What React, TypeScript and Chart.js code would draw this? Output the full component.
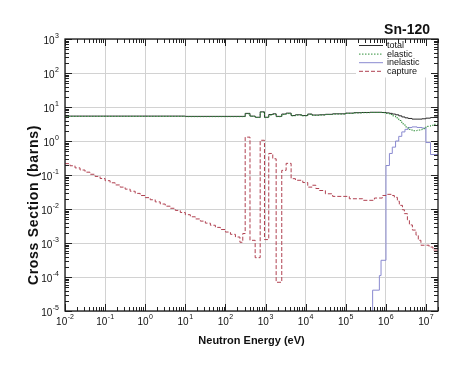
import { useEffect, useRef } from 'react';
import { Chart, registerables } from 'chart.js';

Chart.register(...registerables);

const TITLE = 'Sn-120';
const X_LABEL = 'Neutron Energy (eV)';
const Y_LABEL = 'Cross Section (barns)';
const SERIES_NAMES = ['total', 'elastic', 'inelastic', 'capture'];
const X_DECADES = [-2, -1, 0, 1, 2, 3, 4, 5, 6, 7];
const Y_DECADES = [-5, -4, -3, -2, -1, 0, 1, 2, 3];
const X_MIN = 0.01;
const X_MAX = 2e7;
const Y_MIN = 1e-5;
const Y_MAX = 1e3;

const TOTAL_E = [
  0.01, 10, 311, 410, 552, 736, 942, 1205, 1517, 1841, 2541, 3266, 4351, 5570, 8000, 11300, 14500,
  22100, 31100, 47300, 1.0e5, 1.6e5, 2.5e5, 4.0e5, 8.0e5, 1.01e6, 1.23e6, 1.45e6, 1.75e6, 2.1e6,
  2.5e6, 3.0e6, 3.6e6, 4.5e6, 6.0e6, 8.0e6, 1.0e7, 1.3e7, 1.6e7, 2.0e7,
];
const TOTAL_XS = [
  5.4, 5.3, 6.5, 5.4, 5.0, 7.2, 5.0, 6.0, 6.3, 5.3, 6.2, 6.6, 5.6, 5.9, 5.6, 6.2, 5.8,
  5.9, 6.1, 6.3, 6.6, 6.8, 6.9, 7.0, 6.9, 6.7, 6.5, 6.2, 5.9, 5.5,
  5.1, 4.8, 4.6, 4.4, 4.4, 4.5, 4.7, 4.9, 5.1, 5.1,
];

const ELASTIC_E = [
  0.01, 10, 311, 410, 552, 736, 942, 1205, 1517, 1841, 2541, 3266, 4351, 5570, 8000, 11300, 14500,
  22100, 31100, 47300, 1.0e5, 1.6e5, 2.5e5, 4.0e5, 8.0e5, 1.01e6, 1.23e6, 1.45e6, 1.75e6, 2.1e6,
  2.5e6, 3.0e6, 3.6e6, 4.5e6, 6.0e6, 8.0e6, 1.0e7, 1.3e7, 1.6e7, 2.0e7,
];
const ELASTIC_XS = [
  5.3, 5.2, 6.3, 5.3, 4.9, 7.0, 4.9, 5.8, 6.1, 5.2, 6.0, 6.4, 5.5, 5.8, 5.5, 6.1, 5.7,
  5.8, 6.0, 6.2, 6.5, 6.7, 6.8, 6.9, 6.8, 6.5, 6.0, 5.5, 4.8, 4.0,
  3.2, 2.6, 2.2, 2.0, 2.1, 2.3, 2.7, 2.9, 3.1, 3.1,
];

const INELASTIC_E = [
  4.5e5, 4.69e5, 6.9e5, 7.6e5, 1.01e6, 1.23e6, 1.45e6, 1.75e6, 2.1e6, 2.5e6, 3.0e6, 3.6e6, 4.5e6,
  6.0e6, 8.0e6, 1.0e7, 1.3e7, 2.0e7,
];
const INELASTIC_XS = [
  1e-7, 4.1e-5, 1.1e-4, 3.1e-4, 0.19, 0.43, 0.66, 1.0, 1.37, 1.85, 2.2, 2.5, 2.6,
  2.5, 2.4, 0.9, 0.4, 0.4,
];

const CAPTURE_E = [
  0.01, 0.01334, 0.01778, 0.02371, 0.03162, 0.04217, 0.05623, 0.07499, 0.1, 0.1334, 0.1778, 0.2371,
  0.3162, 0.4217, 0.5623, 0.7499, 1, 1.334, 1.778, 2.371, 3.162, 4.217, 5.623, 7.499, 10, 13.34,
  17.78, 23.71, 31.62, 42.17, 56.23, 74.99, 100, 133.4, 177.8, 230,
  271, 311, 410, 552, 736, 942, 1205, 1517, 1841, 2541, 3266, 4351, 5570, 8500,
  11300, 14500, 18000, 22100, 31100, 47300, 1.23e5, 2.65e5, 5.2e5, 8.2e5, 1.01e6, 1.45e6, 1.63e6,
  1.94e6, 2.17e6, 2.6e6, 2.9e6, 3.45e6, 3.87e6, 4.6e6, 5.66e6, 6.45e6, 7.5e6, 1.2e7, 1.5e7, 2.0e7,
];
const CAPTURE_XS = [
  0.216, 0.187, 0.162, 0.14, 0.121, 0.105, 0.091, 0.079, 0.068, 0.059, 0.051, 0.044,
  0.0384, 0.0333, 0.0288, 0.0249, 0.0216, 0.0187, 0.0162, 0.014, 0.0121, 0.0105, 0.0091, 0.0079,
  0.0068, 0.0059, 0.0051, 0.0044, 0.00384, 0.00333, 0.00288, 0.00249, 0.0021, 0.0018, 0.0015, 0.00105,
  0.0019, 1.3, 0.0012, 0.00037, 1.05, 0.00126, 0.43, 0.3, 0.00007, 0.137, 0.22, 0.078, 0.07, 0.06,
  0.044, 0.05, 0.04, 0.035, 0.028, 0.0235, 0.02, 0.018, 0.021, 0.025, 0.027, 0.025, 0.022,
  0.017, 0.0128, 0.0095, 0.0073, 0.0048, 0.0034, 0.0024, 0.0017, 0.0012, 0.00086, 0.00076, 0.00062, 0.00062,
];

const pts = (e: number[], v: number[]) => e.map((x, i) => ({ x, y: v[i] }));

const FONT = '"Liberation Sans", Arial, Helvetica, sans-serif';

function drawPow(ctx: CanvasRenderingContext2D, exp: number, x: number, y: number, align: 'center' | 'right') {
  const base = '10';
  const e = String(exp);
  ctx.font = `10px ${FONT}`;
  const wb = ctx.measureText(base).width;
  ctx.font = `7px ${FONT}`;
  const we = ctx.measureText(e).width;
  const w = wb + we + 0.5;
  const x0 = align === 'center' ? x - w / 2 : x - w;
  ctx.textAlign = 'left';
  ctx.textBaseline = 'middle';
  ctx.font = `10px ${FONT}`;
  ctx.fillText(base, x0, y);
  ctx.font = `7px ${FONT}`;
  ctx.fillText(e, x0 + wb + 0.5, y - 5);
}

const decorPlugin = {
  id: 'decor',
  afterDatasetsDraw(chart: any) {
    const { ctx, chartArea: a, scales } = chart;
    const xs = scales.x;
    const ys = scales.y;
    ctx.save();

    // legend box
    const boxL = a.right - 82;
    const boxB = a.top + 38;
    ctx.fillStyle = '#ffffff';
    ctx.fillRect(boxL, a.top + 0.5, a.right - boxL, boxB - a.top);
    chart.data.datasets.forEach((ds: any, i: number) => {
      const yy = a.top + 6.5 + i * 8.6;
      ctx.beginPath();
      ctx.strokeStyle = ds.borderColor;
      ctx.lineWidth = 1;
      ctx.setLineDash(ds.borderDash || []);
      ctx.moveTo(a.right - 79, yy);
      ctx.lineTo(a.right - 55, yy);
      ctx.stroke();
      ctx.setLineDash([]);
      ctx.fillStyle = '#111';
      ctx.font = `9px ${FONT}`;
      ctx.textAlign = 'left';
      ctx.textBaseline = 'middle';
      ctx.fillText(ds.label, a.right - 51, yy);
    });

    // ticks
    ctx.strokeStyle = '#222';
    ctx.lineWidth = 1;
    ctx.beginPath();
    const xd0 = Math.floor(Math.log10(X_MIN));
    const xd1 = Math.ceil(Math.log10(X_MAX));
    for (let d = xd0; d <= xd1; d++) {
      for (let k = 1; k <= 9; k++) {
        const v = k * Math.pow(10, d);
        if (v < X_MIN * 0.999 || v > X_MAX * 1.001) continue;
        const px = Math.round(xs.getPixelForValue(v)) + 0.5;
        const len = k === 1 ? 7 : 4;
        ctx.moveTo(px, a.bottom);
        ctx.lineTo(px, a.bottom - len);
        ctx.moveTo(px, a.top);
        ctx.lineTo(px, a.top + len);
      }
    }
    const yd0 = Math.floor(Math.log10(Y_MIN));
    const yd1 = Math.ceil(Math.log10(Y_MAX));
    for (let d = yd0; d <= yd1; d++) {
      for (let k = 1; k <= 9; k++) {
        const v = k * Math.pow(10, d);
        if (v < Y_MIN * 0.999 || v > Y_MAX * 1.001) continue;
        const py = Math.round(ys.getPixelForValue(v)) + 0.5;
        const len = k === 1 ? 7 : 4;
        ctx.moveTo(a.left, py);
        ctx.lineTo(a.left + len, py);
        ctx.moveTo(a.right, py);
        ctx.lineTo(a.right - len, py);
      }
    }
    ctx.stroke();

    // frame
    ctx.lineWidth = 1.3;
    ctx.strokeStyle = '#1a1a1a';
    ctx.strokeRect(a.left, a.top, a.right - a.left, a.bottom - a.top);

    // tick labels
    ctx.fillStyle = '#111';
    X_DECADES.forEach((d) => {
      drawPow(ctx, d, xs.getPixelForValue(Math.pow(10, d)), a.bottom + 11, 'center');
    });
    Y_DECADES.forEach((d) => {
      drawPow(ctx, d, a.left - 6, ys.getPixelForValue(Math.pow(10, d)) + 2, 'right');
    });

    // axis titles
    ctx.font = `bold 11px ${FONT}`;
    ctx.textAlign = 'center';
    ctx.textBaseline = 'middle';
    ctx.fillText(X_LABEL, (a.left + a.right) / 2, a.bottom + 30);
    ctx.save();
    ctx.translate(a.left - 31, (a.top + a.bottom) / 2 + 30);
    ctx.rotate(-Math.PI / 2);
    ctx.font = `bold 14px ${FONT}`;
    try {
      (ctx as any).letterSpacing = '0.7px';
    } catch (e) {
      /* ignore */
    }
    ctx.fillText(Y_LABEL, 0, 0);
    ctx.restore();

    // title
    ctx.font = `bold 14px ${FONT}`;
    ctx.textAlign = 'right';
    ctx.textBaseline = 'middle';
    ctx.fillText(TITLE, a.right - 8, a.top - 9);

    ctx.restore();
  },
};

export default function App() {
  const ref = useRef<HTMLCanvasElement | null>(null);
  useEffect(() => {
    if (!ref.current) return;
    const common = { borderWidth: 1, pointRadius: 0, stepped: 'before' as const, fill: false };
    const chart = new Chart(ref.current, {
      type: 'line',
      data: {
        datasets: [
          { ...common, label: SERIES_NAMES[0], data: pts(TOTAL_E, TOTAL_XS), borderColor: '#2b2b2b', order: 2 },
          { ...common, label: SERIES_NAMES[1], data: pts(ELASTIC_E, ELASTIC_XS), borderColor: '#2f8f3a', borderDash: [1.5, 1.5], order: 1 },
          { ...common, label: SERIES_NAMES[2], data: pts(INELASTIC_E, INELASTIC_XS), borderColor: '#8a8ad0', order: 3 },
          { ...common, label: SERIES_NAMES[3], data: pts(CAPTURE_E, CAPTURE_XS), borderColor: '#b04050', borderDash: [4, 2], order: 0 },
        ] as any,
      },
      options: {
        animation: false,
        responsive: false,
        devicePixelRatio: 1,
        layout: { padding: { left: 65, top: 39, right: 36, bottom: 55 } },
        plugins: { legend: { display: false }, title: { display: false }, tooltip: { enabled: false } },
        scales: {
          x: {
            type: 'logarithmic',
            min: X_MIN,
            max: X_MAX,
            afterBuildTicks: (ax: any) => {
              ax.ticks = X_DECADES.map((d) => ({ value: Math.pow(10, d) }));
            },
            ticks: { display: false },
            grid: { color: '#d2d2d2', drawTicks: false, lineWidth: 1 },
            border: { display: false },
          },
          y: {
            type: 'logarithmic',
            min: Y_MIN,
            max: Y_MAX,
            afterBuildTicks: (ax: any) => {
              ax.ticks = Y_DECADES.map((d) => ({ value: Math.pow(10, d) }));
            },
            ticks: { display: false },
            grid: { color: '#d2d2d2', drawTicks: false, lineWidth: 1 },
            border: { display: false },
          },
        },
      } as any,
      plugins: [decorPlugin],
    });
    return () => chart.destroy();
  }, []);
  return (
    <div style={{ position: 'fixed', left: 0, top: 0, width: 474, height: 366, background: '#fff' }}>
      <canvas ref={ref} width={474} height={366} style={{ display: 'block', width: 474, height: 366 }} />
    </div>
  );
}
